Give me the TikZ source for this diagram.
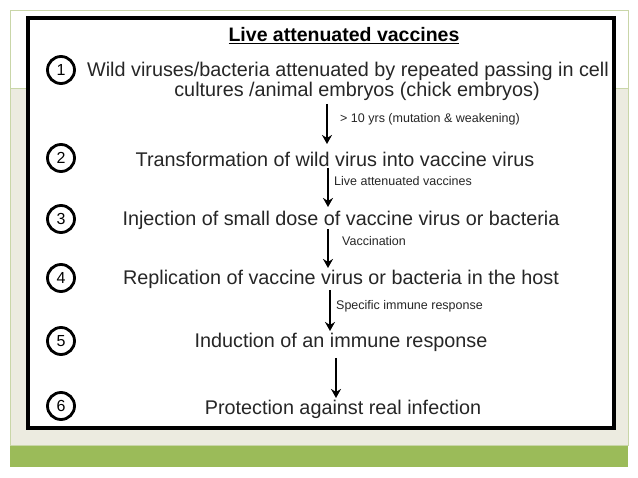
\documentclass[tikz,border=0pt]{standalone}
\usepackage{fontspec}
\usetikzlibrary{arrows.meta}
\setmainfont{Liberation Sans}
\definecolor{cream}{HTML}{ECEBE0}
\definecolor{bargreen}{HTML}{9BBB59}
\definecolor{framegreen}{HTML}{C9D6A8}
\begin{document}
\begin{tikzpicture}[x=1pt,y=-1pt,
  txt/.style={font=\fontsize{19.8}{22}\selectfont, text=black!85, inner sep=0pt},
  lbl/.style={font=\fontsize{12.5}{14}\selectfont, text=black!85, inner sep=0pt, anchor=west},
  num/.style={circle, draw=black, line width=2.8pt, minimum size=27pt, inner sep=0pt, font=\fontsize{16}{16}\selectfont},
  arr/.style={-{Stealth[length=9pt,width=10pt]}, line width=2pt}]
\useasboundingbox (0,0) rectangle (638,478);
\fill[white] (0,0) rectangle (638,478);
\fill[cream] (10,88) rectangle (628,445);
\fill[bargreen] (10,445) rectangle (628,467);
\draw[framegreen, line width=0.8pt] (10,10) rectangle (628,445);
\draw[framegreen, line width=0.8pt] (10,88) -- (628,88);
\draw[fill=white, line width=3.2pt] (28,18) rectangle (614,428);
\node[font=\fontsize{19.5}{22}\selectfont\bfseries, inner sep=0pt] (title) at (344,36) {\underline{Live attenuated vaccines}};
\node[num] (c1) at (61,70) {1};
\node[num] (c2) at (61,158) {2};
\node[num] (c3) at (61,219) {3};
\node[num] (c4) at (61,278) {4};
\node[num] (c5) at (61,341) {5};
\node[num] (c6) at (61,406) {6};
\node[txt] (t1) at (348,71) {Wild viruses/bacteria attenuated by repeated passing in cell};
\node[txt] (t1b) at (357,91) {cultures /animal embryos (chick embryos)};
\node[txt] (t2) at (335,159) {Transformation of wild virus into vaccine virus};
\node[txt] (t3) at (341,220) {Injection of small dose of vaccine virus or bacteria};
\node[txt] (t4) at (341,279) {Replication of vaccine virus or bacteria in the host};
\node[txt] (t5) at (341,342) {Induction of an immune response};
\node[txt] (t6) at (343,409) {Protection against real infection};
\coordinate (a1s) at (327,104); \coordinate (a1e) at (327,144);
\coordinate (a2s) at (328,168); \coordinate (a2e) at (328,207);
\coordinate (a3s) at (328,229); \coordinate (a3e) at (328,268);
\coordinate (a4s) at (330,290); \coordinate (a4e) at (330,331);
\coordinate (a5s) at (336,358); \coordinate (a5e) at (336,398);
\draw[arr] (a1s) -- (a1e);
\draw[arr] (a2s) -- (a2e);
\draw[arr] (a3s) -- (a3e);
\draw[arr] (a4s) -- (a4e);
\draw[arr] (a5s) -- (a5e);
\node[lbl] (l1) at (340,119) {> 10 yrs (mutation \& weakening)};
\node[lbl] (l2) at (334,181) {Live attenuated vaccines};
\node[lbl] (l3) at (342,241) {Vaccination};
\node[lbl] (l4) at (336,306) {Specific immune response};
\end{tikzpicture}
\end{document}
